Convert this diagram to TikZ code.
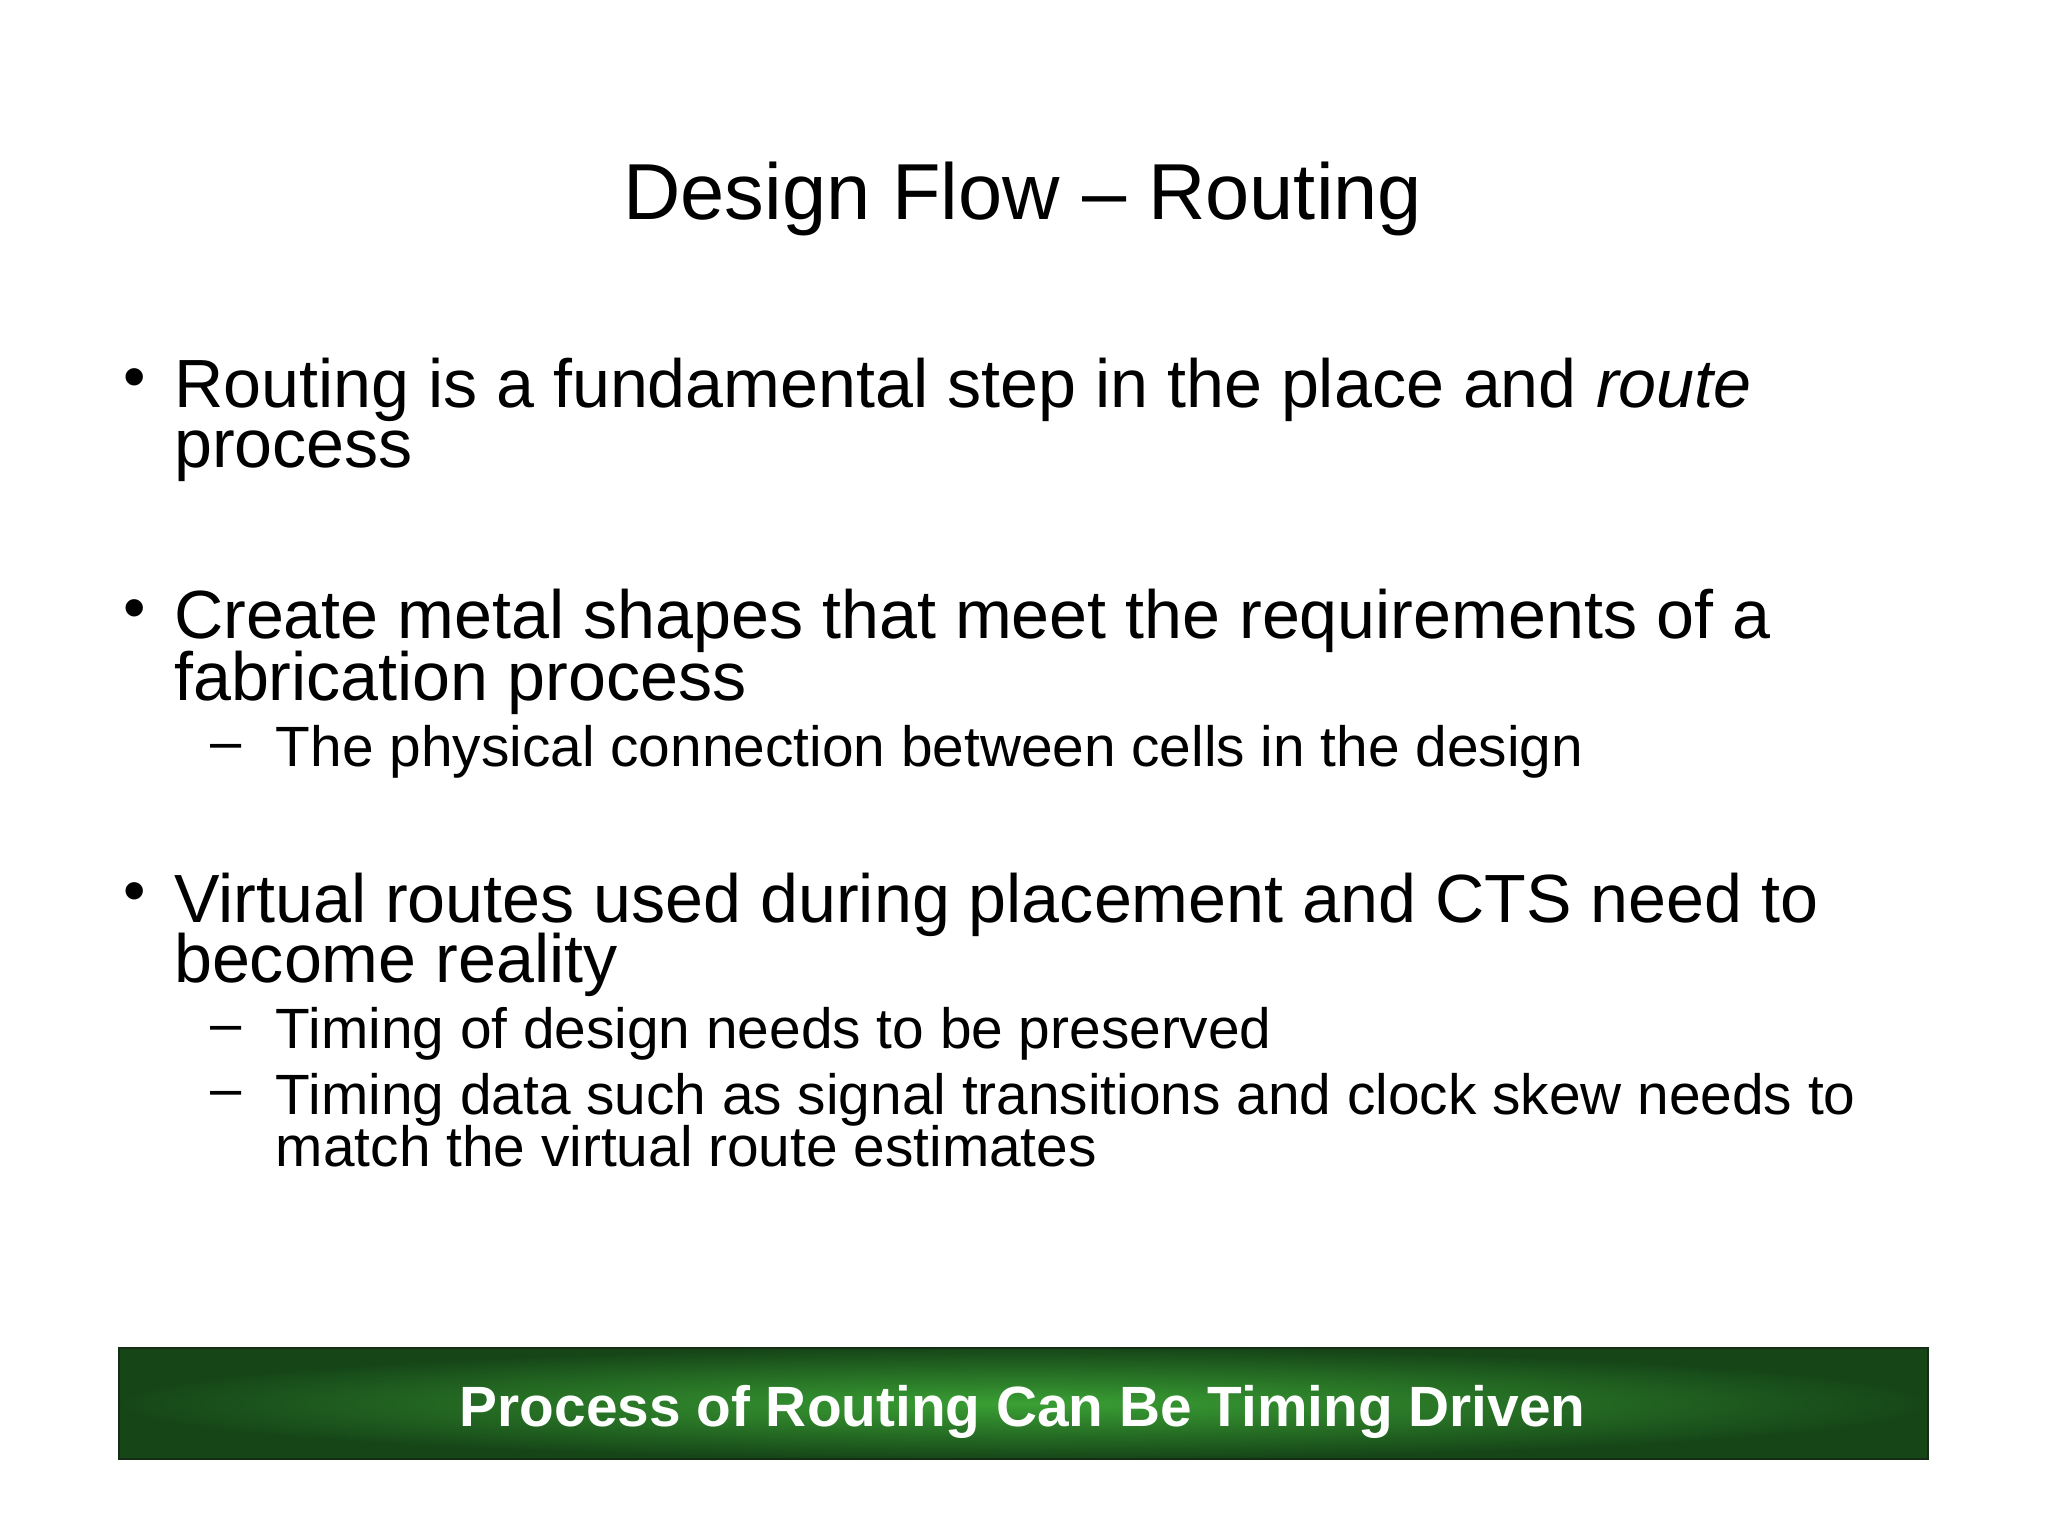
\documentclass[tikz,border=0pt]{standalone}
\usepackage{fontspec}
\setmainfont{Liberation Sans}
\begin{document}
\begin{tikzpicture}[x=0.653pt,y=-0.653pt,
  lvone/.style={anchor=base west,inner sep=0pt,font=\fontsize{34.1}{36}\selectfont},
  lvtwo/.style={anchor=base west,inner sep=0pt,font=\fontsize{28.4}{30}\selectfont},
  bul/.style={anchor=base,inner sep=0pt,font=\fontsize{32}{34}\selectfont},
  dsh/.style={anchor=base,inner sep=0pt,font=\fontsize{28}{30}\selectfont}]
\useasboundingbox[fill=white] (0,0) rectangle (1568,1176);
\node[anchor=base,inner sep=0pt,font=\fontsize{39.7}{42}\selectfont] (title) at (783,168) {Design Flow – Routing};
% bullet 1
\node[bul] (b1) at (103,305) {•};
\node[lvone] (t1a) at (133,312) {Routing is a fundamental step in the place and \textit{route}};
\node[lvone] (t1b) at (133,358) {process};
% bullet 2
\node[bul] (b2) at (103,482) {•};
\node[lvone] (t2a) at (133,489) {Create metal shapes that meet the requirements of a};
\node[lvone] (t2b) at (133,536) {fabrication process};
\node[dsh] (d2) at (173,582) {–};
\node[lvtwo] (s2) at (211,587) {The physical connection between cells in the design};
% bullet 3
\node[bul] (b3) at (103,699) {•};
\node[lvone] (t3a) at (133,706) {Virtual routes used during placement and CTS need to};
\node[lvone] (t3b) at (133,752) {become reality};
\node[dsh] (d3) at (173,798) {–};
\node[lvtwo] (s3) at (211,803) {Timing of design needs to be preserved};
\node[dsh] (d4) at (173,848) {–};
\node[lvtwo] (s4a) at (211,853) {Timing data such as signal transitions and clock skew needs to};
\node[lvtwo] (s4b) at (211,893) {match the virtual route estimates};
% banner
\shade[inner color={rgb,255:red,58;green,160;blue,52},outer color={rgb,255:red,22;green,70;blue,24},shading=radial]
  (91,1032) rectangle (1476,1117);
\draw[draw={rgb,255:red,20;green,45;blue,20},line width=1pt] (91,1032) rectangle (1476,1117);
\node[anchor=base,inner sep=0pt,text=white,font=\bfseries\fontsize{28.4}{30}\selectfont] (ban) at (783,1092) {Process of Routing Can Be Timing Driven};
\end{tikzpicture}
\end{document}
